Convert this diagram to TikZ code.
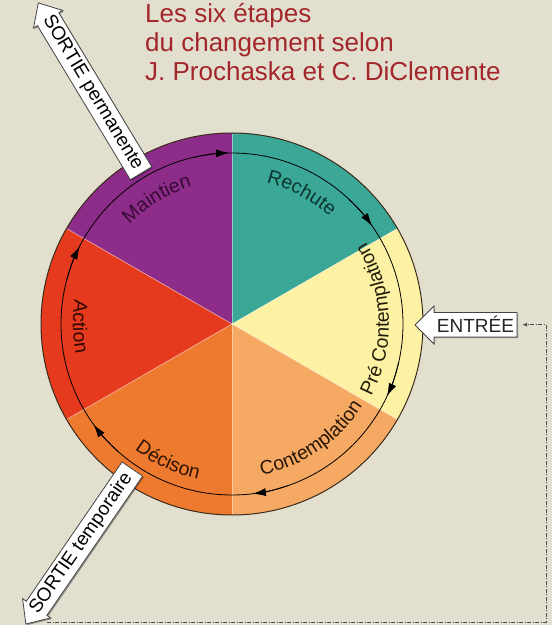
\documentclass[tikz,border=0pt]{standalone}
\usepackage{fontspec}
\setmainfont{Liberation Sans}
\usetikzlibrary{arrows.meta,decorations.text,shadows}
\definecolor{bg}{HTML}{E2DFCF}
\definecolor{cMaint}{HTML}{8E2C8A}
\definecolor{cRech}{HTML}{3BA796}
\definecolor{cPre}{HTML}{FDF2A3}
\definecolor{cCont}{HTML}{F6A962}
\definecolor{cDec}{HTML}{EE7A2F}
\definecolor{cAct}{HTML}{E53A1E}
\definecolor{tMaint}{HTML}{350A34}
\definecolor{tRech}{HTML}{0C352F}
\definecolor{tPre}{HTML}{221E0C}
\definecolor{tCont}{HTML}{281606}
\definecolor{tDec}{HTML}{321404}
\definecolor{tAct}{HTML}{320803}
\definecolor{titlered}{HTML}{A3262B}
\definecolor{rimcol}{HTML}{3A2A1A}
\definecolor{edgegray}{HTML}{444444}
\newcommand\lblfont{\fontsize{19.5}{21}\selectfont}
\tikzset{
  titletext/.style={anchor=north west,inner sep=0pt,align=left,text=titlered,font=\fontsize{26}{29}\selectfont},
  sep/.style={draw=white,opacity=0.45,line width=0.8pt},
  rim/.style={draw=rimcol,line width=1pt},
  cycleline/.style={draw=black,line width=0.8pt},
  cyclearrow/.style={draw=black,line width=0.8pt,-{Latex[length=13pt,width=8pt]}},
  exitarrow/.style={draw=edgegray,line width=0.8pt,fill=white,line join=miter,
    drop shadow={shadow xshift=1.2pt,shadow yshift=-1.2pt,opacity=0.35,fill=black}},
  arrowtext/.style={inner sep=0pt,font=\fontsize{19}{21}\selectfont,text=black},
  entrytext/.style={inner sep=0pt,minimum width=83pt,minimum height=24.5pt,font=\fontsize{19}{21}\selectfont,text=black!85},
  dashline/.style={draw=black!70,line width=0.8pt,dash pattern=on 4pt off 1.5pt on 1pt off 1.5pt,-{Latex[length=5pt,width=4pt]}},
  steplabel/.style={decorate}
}
\begin{document}
\begin{tikzpicture}[x=1pt,y=1pt]
\fill[bg] (0,0) rectangle (552,625);
\useasboundingbox (0,0) rectangle (552,625);

\node[titletext] (title) at (145,622) {Les six étapes\\du changement selon\\J. Prochaska et C. DiClemente};

\begin{scope}[shift={(232,301)}]
  \coordinate (O) at (0,0);
  \fill[cMaint] (O) -- (90:191) arc[start angle=90,end angle=150,radius=191] -- cycle;
  \fill[cRech] (O) -- (30:191) arc[start angle=30,end angle=90,radius=191] -- cycle;
  \fill[cPre] (O) -- (-30:191) arc[start angle=-30,end angle=30,radius=191] -- cycle;
  \fill[cCont] (O) -- (-90:191) arc[start angle=-90,end angle=-30,radius=191] -- cycle;
  \fill[cDec] (O) -- (-150:191) arc[start angle=-150,end angle=-90,radius=191] -- cycle;
  \fill[cAct] (O) -- (150:191) arc[start angle=150,end angle=210,radius=191] -- cycle;
  \foreach \a in {30,90,150,210,270,330} \draw[sep] (O) -- (\a:190);
  \draw[rim] (O) circle[radius=191];
  \draw[cycleline] (O) circle[radius=171];
  \foreach \t in {91,35,-25,-83,-144,153}
    \draw[cyclearrow] ({\t+12}:171) arc[start angle={\t+12},end angle=\t,radius=171];

  \path[steplabel,decoration={text along path,text align=center,text={|\lblfont\color{tMaint}|Maintien}}]
    (181:143) arc[start angle=181,end angle=61,radius=143];
  \path[steplabel,decoration={text along path,text align=center,text={|\lblfont\color{tRech}|Rechute}}]
    (122:145) arc[start angle=122,end angle=2,radius=145];
  \path[steplabel,decoration={text along path,text align=center,text={|\lblfont\color{tPre}|Pré Contemplation}}]
    (-58:157) arc[start angle=-58,end angle=62,radius=157];
  \path[steplabel,decoration={text along path,text align=center,text={|\lblfont\color{tCont}|Contemplation}}]
    (-115.5:154) arc[start angle=-115.5,end angle=4.5,radius=154];
  \path[steplabel,decoration={text along path,text align=center,text={|\lblfont\color{tDec}|Décison}}]
    (-175:159) arc[start angle=-175,end angle=-55,radius=159];
  \path[steplabel,decoration={text along path,text align=center,text={|\lblfont\color{tAct}|Action}}]
    (121:159) arc[start angle=121,end angle=241,radius=159];
\end{scope}

% SORTIE permanente
\begin{scope}[shift={(232,301)},rotate=121.1]
  \draw[exitarrow] (176,-12.5) -- (356,-12.5) -- (356,-17) -- (375,0) -- (356,17) -- (356,12.5) -- (176,12.5) -- cycle;
  \node[arrowtext,rotate=-58.9] (sortieP) at (270,0) {SORTIE permanente};
\end{scope}

% SORTIE temporaire
\begin{scope}[shift={(232,301)},rotate=-124.5]
  \draw[exitarrow] (176,-12.5) -- (345,-12.5) -- (345,-17) -- (364,0) -- (345,17) -- (345,12.5) -- (176,12.5) -- cycle;
  \node[arrowtext,rotate=55.5] (sortieT) at (266,0) {SORTIE temporaire};
\end{scope}

% ENTREE
\draw[exitarrow] (415,300) -- (434,319) -- (434,312.5) -- (517,312.5) -- (517,288) -- (434,288) -- (434,281) -- cycle;
\node[entrytext] (entree) at (475.5,300.3) {ENTRÉE};

\coordinate (dstart) at (47,3);
\coordinate (dturn) at (546,3);
\draw[dashline] (dstart) -- (dturn) |- ([xshift=5pt]entree.east);
\end{tikzpicture}
\end{document}
